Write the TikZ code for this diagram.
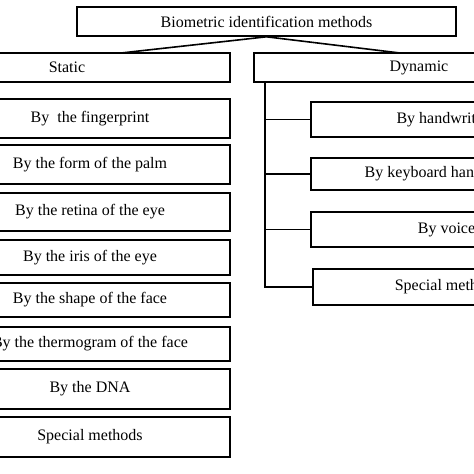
\documentclass[tikz,border=0pt]{standalone}
\usepackage{fontspec}
\setmainfont{Liberation Serif}

\begin{document}
\begin{tikzpicture}[x=1pt, y=-1pt, line width=1.6pt, font=\fontsize{16}{19}\selectfont,
  box/.style={draw, rectangle, inner sep=0pt}]
  \useasboundingbox (0,0) rectangle (474,474);
  \clip (0,0) rectangle (474,474);

  \node[box, minimum width=379pt, minimum height=29pt] (top) at (266.5,21.5) {Biometric identification methods};
  \node[box, minimum width=326pt, minimum height=29pt] (static) at (67,67.5) {Static};
  \node[box, minimum width=330pt, minimum height=29pt] (dyn) at (419,67.5) {Dynamic};

  \coordinate (sj) at (121,53);
  \coordinate (dj) at (400,53);
  \draw (top.south) -- (sj);
  \draw (top.south) -- (dj);

  % static methods
  \node[box, minimum width=280pt, minimum height=39pt] (s1) at (90,118.5) {By\ \ the fingerprint};
  \node[box, minimum width=280pt, minimum height=39pt] (s2) at (90,164.5) {By the form of the palm};
  \node[box, minimum width=280pt, minimum height=38pt] (s3) at (90,212) {By the retina of the eye};
  \node[box, minimum width=280pt, minimum height=35pt] (s4) at (90,257.5) {By the iris of the eye};
  \node[box, minimum width=280pt, minimum height=34pt] (s5) at (90,300) {By the shape of the face};
  \node[box, minimum width=280pt, minimum height=34pt] (s6) at (90,344) {By the thermogram of the face};
  \node[box, minimum width=280pt, minimum height=40pt] (s7) at (90,389) {By the DNA};
  \node[box, minimum width=280pt, minimum height=40pt] (s8) at (90,437) {Special methods};

  % dynamic methods
  \node[box, minimum width=271pt, minimum height=35pt] (d1) at (446.5,119.5) {By handwriting};
  \node[box, minimum width=271pt, minimum height=32pt] (d2) at (446.5,174) {By keyboard handwriting};
  \node[box, minimum width=271pt, minimum height=35pt] (d3) at (446.5,229.5) {By voice};
  \node[box, minimum width=269pt, minimum height=36pt] (d4) at (447.5,287) {Special methods};

  \coordinate (trunk) at (265,82);
  \draw (trunk) |- (d4.west);
  \draw (trunk |- d1.west) -- (d1.west);
  \draw (trunk |- d2.west) -- (d2.west);
  \draw (trunk |- d3.west) -- (d3.west);
\end{tikzpicture}
\end{document}
